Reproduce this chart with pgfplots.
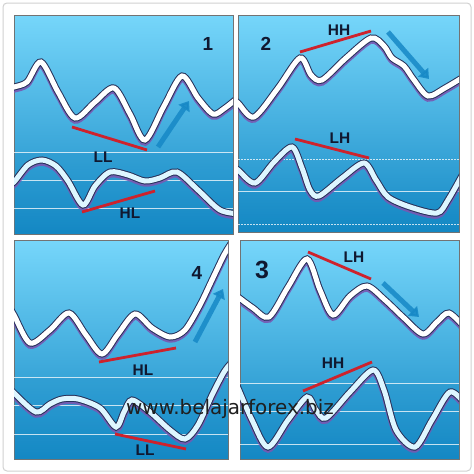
\documentclass[border=0pt]{standalone}
\usepackage{pgfplots}
\pgfplotsset{compat=1.18}
\usepackage{fontspec}
\setmainfont{Liberation Sans}
\newfontfamily\wmfont{DejaVu Sans}
\usetikzlibrary{arrows.meta}
\definecolor{bgtop}{RGB}{118,214,250}
\definecolor{bgbot}{RGB}{20,136,196}
\definecolor{shadowc}{RGB}{120,88,178}
\definecolor{outc}{RGB}{38,48,88}
\definecolor{corelow}{RGB}{222,246,255}
\definecolor{redl}{RGB}{206,34,44}
\definecolor{bluea}{RGB}{22,136,198}
\definecolor{txt}{RGB}{16,24,48}
\pgfplotsset{
  panel/.style={width=#1, scale only axis, anchor=north west, y dir=reverse,
    ticks=none, axis line style={draw=black!55, line width=0.5bp},
    axis background/.style={top color=bgtop, bottom color=bgbot}},
  shadowline/.style={smooth, color=shadowc, line width=7.4bp, yshift=-2bp, opacity=0.9},
  outline/.style={smooth, color=outc, line width=7bp},
  coreline/.style={smooth, line width=5bp},
  redline/.style={color=redl, line width=2.8bp},
  bluearrow/.style={color=bluea, opacity=0.85, line width=5bp, -{Triangle[length=9bp,width=13bp]}},
  hline/.style={color=white, opacity=0.75, line width=0.7bp},
  dline/.style={color=white, opacity=0.75, line width=0.7bp, dash pattern=on 1.5bp off 1.5bp},
}
\newcommand\wave[2]{%
  \addplot[shadowline] coordinates {#2};
  \addplot[outline] coordinates {#2};
  \addplot[coreline,color=#1] coordinates {#2};}
\tikzset{lab/.style={font=\bfseries\fontsize{15.5}{15.5}\selectfont, text=txt}}
\begin{document}
\begin{tikzpicture}
\fill[white] (0,0) rectangle (474bp,-474bp);
\draw[black!18, line width=1bp, rounded corners=4bp] (3bp,-3bp) rectangle (471bp,-471bp);
% ---------------- Panel 1
\begin{axis}[panel=219bp, height=219bp, at={(14bp,-15bp)}, xmin=14, xmax=233, ymin=15, ymax=234]
\addplot[draw=none, fill=bgbot, opacity=0.18] coordinates {(14,152)(233,152)(233,234)(14,234)} \closedcycle;
\addplot[hline] coordinates {(14,152)(233,152)};
\addplot[hline] coordinates {(14,180)(233,180)};
\addplot[hline] coordinates {(14,208)(233,208)};
\wave{white}{(8,89)(14,87)(27,82)(41,62)(58,92)(75,118)(95,102)(114,88)(130,114)(145,140)(164,106)(182,76)(198,98)(213,114)(225,108)(240,96)}
\wave{corelow}{(8,185)(14,182)(28,165)(42,160)(56,166)(68,181)(83,205)(95,186)(110,172)(128,175)(145,181)(160,178)(177,172)(198,190)(220,210)(240,214)}
\addplot[redline] coordinates {(72,127)(147,150)};
\addplot[redline] coordinates {(82,212)(155,191)};
\addplot[bluearrow] coordinates {(158,147)(189,101)};
\node[lab] at (axis cs:103,157) {LL};
\node[lab] at (axis cs:130,213) {HL};
\node[font=\bfseries\fontsize{19}{19}\selectfont, text=txt] at (axis cs:208,44) {1};
\end{axis}
% ---------------- Panel 2
\begin{axis}[panel=221bp, height=217bp, at={(238bp,-15bp)}, xmin=238, xmax=459, ymin=15, ymax=232]
\addplot[draw=none, fill=bgbot, opacity=0.18] coordinates {(238,191)(459,191)(459,232)(238,232)} \closedcycle;
\addplot[dline] coordinates {(238,159)(459,159)};
\addplot[hline] coordinates {(238,191)(459,191)};
\addplot[dline] coordinates {(238,224)(459,224)};
\wave{white}{(232,98)(238,103)(254,117)(278,88)(300,58)(311,75)(322,80)(346,58)(371,38)(384,46)(392,58)(404,66)(414,80)(428,96)(445,88)(465,76)}
\wave{corelow}{(232,166)(238,170)(255,183)(274,162)(292,147)(302,168)(310,190)(319,196)(342,178)(364,163)(376,180)(388,197)(410,207)(437,213)(448,200)(465,170)}
\addplot[redline] coordinates {(300,52)(371,31)};
\addplot[redline] coordinates {(295,139)(369,158)};
\addplot[bluearrow] coordinates {(388,32)(429,79)};
\node[lab] at (axis cs:339,30) {HH};
\node[lab] at (axis cs:340,138) {LH};
\node[font=\bfseries\fontsize{19}{19}\selectfont, text=txt] at (axis cs:266,44) {2};
\end{axis}
% ---------------- Panel 4
\begin{axis}[panel=214bp, height=219bp, at={(14bp,-240bp)}, xmin=14, xmax=228, ymin=240, ymax=459]
\addplot[draw=none, fill=bgbot, opacity=0.18] coordinates {(14,377)(228,377)(228,459)(14,459)} \closedcycle;
\addplot[hline] coordinates {(14,377)(228,377)};
\addplot[hline] coordinates {(14,405)(228,405)};
\addplot[hline] coordinates {(14,434)(228,434)};
\wave{white}{(8,305)(14,315)(30,343)(50,330)(69,313)(86,335)(102,354)(118,334)(135,314)(152,328)(170,337)(185,330)(200,305)(212,280)(224,255)(232,242)}
\wave{corelow}{(8,386)(14,393)(36,412)(50,404)(62,399)(78,399)(100,408)(116,427)(124,412)(132,400)(150,412)(170,430)(185,439)(198,425)(212,395)(224,372)(232,362)}
\addplot[redline] coordinates {(99,362)(176,348)};
\addplot[redline] coordinates {(115,434)(186,449)};
\addplot[bluearrow] coordinates {(195,342)(223,289)};
\node[lab] at (axis cs:143,370) {HL};
\node[lab] at (axis cs:145,450) {LL};
\node[font=\bfseries\fontsize{19}{19}\selectfont, text=txt] at (axis cs:197,273) {4};
\end{axis}
% ---------------- Panel 3
\begin{axis}[panel=219bp, height=219bp, at={(240bp,-240bp)}, xmin=240, xmax=459, ymin=240, ymax=459]
\addplot[draw=none, fill=bgbot, opacity=0.18] coordinates {(240,383)(459,383)(459,459)(240,459)} \closedcycle;
\addplot[hline] coordinates {(240,383)(459,383)};
\addplot[hline] coordinates {(240,411)(459,411)};
\addplot[hline] coordinates {(240,444)(459,444)};
\wave{white}{(232,293)(238,297)(253,308)(269,317)(288,287)(307,259)(320,290)(333,315)(350,296)(367,286)(385,300)(404,318)(423,334)(437,322)(449,313)(465,328)}
\wave{corelow}{(232,376)(238,388)(252,420)(268,447)(288,420)(307,397)(316,410)(326,418)(350,392)(373,370)(384,390)(396,430)(415,447)(432,420)(450,392)(465,404)}
\addplot[redline] coordinates {(308,252)(371,279)};
\addplot[redline] coordinates {(303,391)(372,362)};
\addplot[bluearrow] coordinates {(383,283)(419,317)};
\node[lab] at (axis cs:354,257) {LH};
\node[lab] at (axis cs:333,363) {HH};
\node[font=\bfseries\fontsize{25}{25}\selectfont, text=txt] at (axis cs:262,270) {3};
\end{axis}
\node[font=\wmfont\fontsize{20}{20}\selectfont, text=black!88] at (230bp,-409bp) {www.belajarforex.biz};
\end{tikzpicture}
\end{document}
